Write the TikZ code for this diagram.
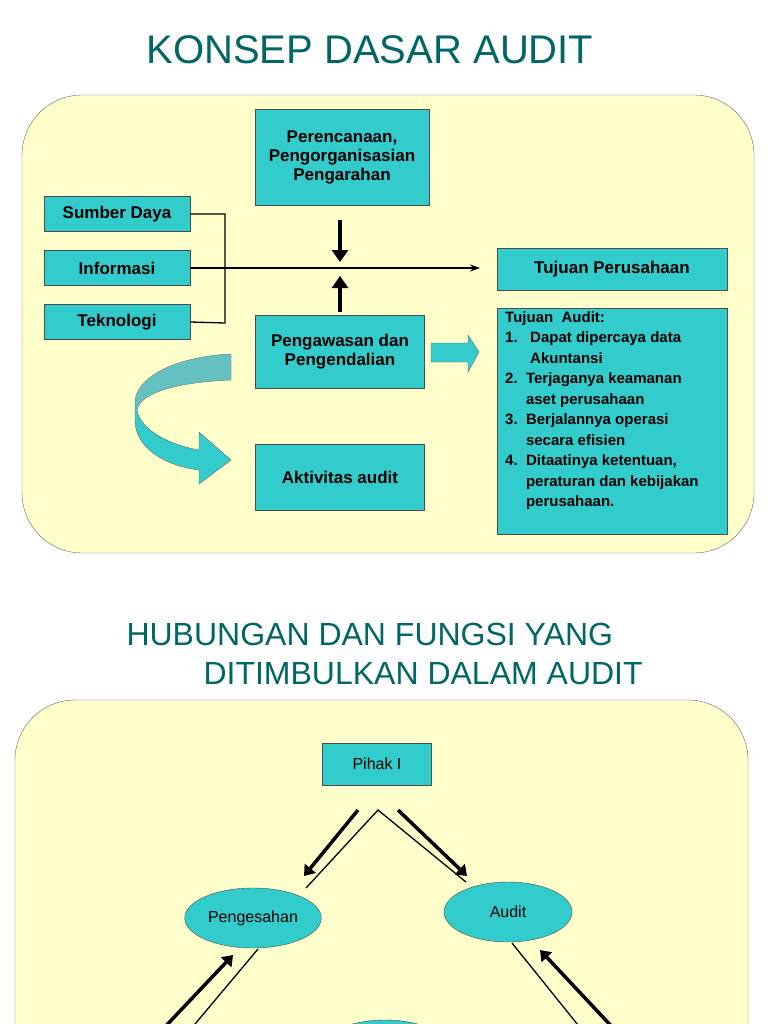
\documentclass[tikz,border=0pt]{standalone}
\usepackage{fontspec}
\setmainfont{Liberation Sans}
\usetikzlibrary{arrows.meta,shapes.geometric}
\definecolor{teal1}{RGB}{51,204,204}
\definecolor{cream}{RGB}{255,255,204}
\definecolor{ttl}{RGB}{0,102,102}
\tikzset{
 box/.style={draw=black!70,fill=teal1,align=center,font=\bfseries\fontsize{17}{19}\selectfont,inner sep=2pt},
 oval/.style={ellipse,draw=black!70,fill=teal1,font=\fontsize{16}{18}\selectfont},
 panel/.style={draw=black!60,fill=cream,rounded corners=60pt},
 thinl/.style={line width=1.3pt},
 thickarr/.style={line width=3.5pt,-{Triangle[length=10pt,width=14pt]}}
}
\begin{document}
\begin{tikzpicture}[x=1pt,y=-1pt]
\useasboundingbox (0,0) rectangle (768,1024);
\clip (0,0) rectangle (768,1024);
\node[text=ttl,font=\fontsize{40}{44}\selectfont] (t1) at (370,50) {KONSEP DASAR AUDIT};
\draw[panel] (22,95) rectangle (754,553);
\node[box,minimum width=174pt,minimum height=96pt] (plan) at (342,157) {Perencanaan,\\Pengorganisasian\\Pengarahan};
\node[box,minimum width=146pt,minimum height=35pt] (sd) at (117,214) {Sumber Daya};
\node[box,minimum width=146pt,minimum height=35pt] (inf) at (117,268) {Informasi};
\node[box,minimum width=146pt,minimum height=35pt] (tek) at (117,322) {Teknologi};
\node[box,minimum width=230pt,minimum height=42pt] (tp) at (612,269) {Tujuan Perusahaan};
\node[box,minimum width=169pt,minimum height=73pt] (pp) at (340,352) {Pengawasan dan\\Pengendalian};
\node[box,minimum width=169pt,minimum height=66pt] (aa) at (340,477) {Aktivitas audit};
\node[box,minimum width=230pt,minimum height=226pt] (ta) at (612,421) {};
\node[anchor=north west,align=left,font=\bfseries\fontsize{15}{20.5}\selectfont,inner sep=0pt] (tat) at (505,311) {Tujuan \ Audit:\\
1.\ \ \ Dapat dipercaya data\\\phantom{1.\ \ \ }Akuntansi\\
2.\ \ Terjaganya keamanan\\\phantom{2.\ \ }aset perusahaan\\
3.\ \ Berjalannya operasi\\\phantom{3.\ \ }secara efisien\\
4.\ \ Ditaatinya ketentuan,\\\phantom{4.\ \ }peraturan dan kebijakan\\\phantom{4.\ \ }perusahaan.};
\coordinate (br1) at (225,214);
\coordinate (br2) at (225,323);
\coordinate (aend) at (480,268);
\draw[thinl] (sd.east) -- (br1) -- (br2) -- (tek.east);
\draw[thinl,-{Stealth[length=10pt,width=7pt]}] (inf.east) -- (aend);
\coordinate (c1) at (340,220); \coordinate (c2) at (340,262);
\coordinate (c3) at (340,312); \coordinate (c4) at (340,276);
\draw[line width=3.5pt,-{Triangle[length=12pt,width=16pt]}] (c1) -- (c2);
\draw[line width=3.5pt,-{Triangle[length=12pt,width=16pt]}] (c3) -- (c4);
\draw[draw=black!60,fill=teal1] (431,343) -- (468,343) -- (468,335) -- (479,352) -- (468,372) -- (468,362) -- (431,362) -- cycle;
% curved arrow
\draw[draw=black!60,fill=teal1] (231,354) -- (231,380) .. controls (180,382) and (140,392) .. (137,410)
 .. controls (140,430) and (170,445) .. (199,450) -- (199,432) -- (231,460) -- (199,484) -- (199,470)
 .. controls (160,465) and (135,445) .. (135,420) -- (135,400) .. controls (140,372) and (185,356) .. cycle;
\fill[black!30,opacity=0.4] (231,354) -- (231,380) .. controls (180,382) and (140,392) .. (137,410) -- (135,400) .. controls (140,372) and (185,356) .. cycle;
% section 2
\node[text=ttl,font=\fontsize{32}{36}\selectfont,anchor=west] (t2a) at (123,634) {HUBUNGAN DAN FUNGSI YANG};
\node[text=ttl,font=\fontsize{32}{36}\selectfont,anchor=west] (t2b) at (200,674) {DITIMBULKAN DALAM AUDIT};
\draw[panel] (15,700) rectangle (748,1100);
\node[draw=black!70,fill=teal1,minimum width=109pt,minimum height=42pt,font=\fontsize{16}{18}\selectfont] (p1) at (377,764) {Pihak I};
\node[oval,minimum width=128pt,minimum height=60pt] (pg) at (253,918) {Pengesahan};
\node[oval,minimum width=128pt,minimum height=60pt] (au) at (508,912) {Audit};
\node[oval,minimum width=130pt,minimum height=60pt] (bt) at (385,1050) {};
\coordinate (apex) at (378,810);
\draw[thinl] (306,888) -- (apex) -- (466,882);
\coordinate (a1) at (358,810); \coordinate (a2) at (304,876);
\coordinate (b1) at (398,810); \coordinate (b2) at (467,876);
\draw[thickarr] (a1) -- (a2);
\draw[thickarr] (b1) -- (b2);
\coordinate (l1) at (258,949); \coordinate (l2) at (190,1030);
\draw[thinl] (l1) -- (l2);
\coordinate (l3) at (162,1030); \coordinate (l4) at (233,955);
\draw[thickarr] (l3) -- (l4);
\coordinate (r1) at (512,943); \coordinate (r2) at (582,1030);
\draw[thinl] (r1) -- (r2);
\coordinate (r3) at (615,1030); \coordinate (r4) at (540,950);
\draw[thickarr] (r3) -- (r4);
\end{tikzpicture}
\end{document}
